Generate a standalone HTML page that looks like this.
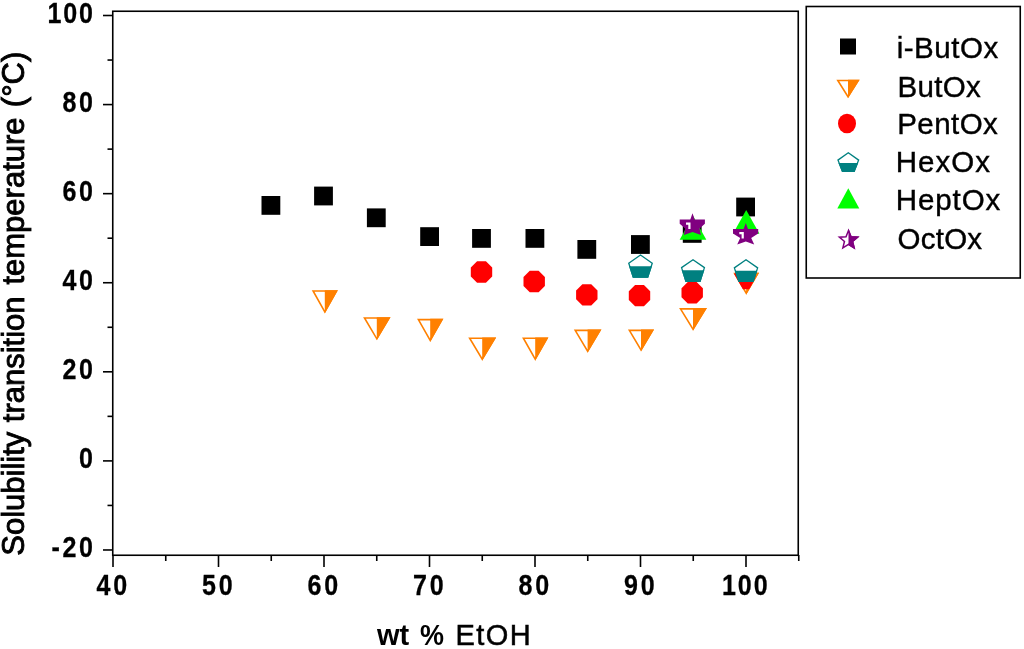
<!DOCTYPE html>
<html><head><meta charset="utf-8"><style>
html,body{margin:0;padding:0;background:#fff;}
svg{display:block;}
.tk{font-family:"Liberation Sans",Arial,sans-serif;font-weight:bold;font-size:30px;fill:#000;stroke:#000;stroke-width:0.3px;}
.tx{font-family:"Liberation Sans",Arial,sans-serif;font-size:29px;fill:#000;stroke:#000;stroke-width:0.5px;}
.ty{font-family:"Liberation Sans",Arial,sans-serif;font-size:31px;fill:#000;stroke:#000;stroke-width:0.9px;}
.lg{font-family:"Liberation Sans",Arial,sans-serif;font-size:29.5px;fill:#000;stroke:#000;stroke-width:0.4px;}
</style></head><body>
<svg width="1024" height="649" viewBox="0 0 1024 649">
<rect x="112.75" y="11.25" width="685.5" height="544" fill="none" stroke="#000" stroke-width="1.6"/>
<line x1="103" y1="549.98" x2="113" y2="549.98" stroke="#000" stroke-width="1.6"/>
<line x1="107.5" y1="505.44" x2="113" y2="505.44" stroke="#000" stroke-width="1.6"/>
<line x1="103" y1="460.90" x2="113" y2="460.90" stroke="#000" stroke-width="1.6"/>
<line x1="107.5" y1="416.36" x2="113" y2="416.36" stroke="#000" stroke-width="1.6"/>
<line x1="103" y1="371.82" x2="113" y2="371.82" stroke="#000" stroke-width="1.6"/>
<line x1="107.5" y1="327.28" x2="113" y2="327.28" stroke="#000" stroke-width="1.6"/>
<line x1="103" y1="282.74" x2="113" y2="282.74" stroke="#000" stroke-width="1.6"/>
<line x1="107.5" y1="238.20" x2="113" y2="238.20" stroke="#000" stroke-width="1.6"/>
<line x1="103" y1="193.66" x2="113" y2="193.66" stroke="#000" stroke-width="1.6"/>
<line x1="107.5" y1="149.12" x2="113" y2="149.12" stroke="#000" stroke-width="1.6"/>
<line x1="103" y1="104.58" x2="113" y2="104.58" stroke="#000" stroke-width="1.6"/>
<line x1="107.5" y1="60.04" x2="113" y2="60.04" stroke="#000" stroke-width="1.6"/>
<line x1="103" y1="15.50" x2="113" y2="15.50" stroke="#000" stroke-width="1.6"/>
<line x1="113.00" y1="555" x2="113.00" y2="567" stroke="#000" stroke-width="1.6"/>
<line x1="165.75" y1="555" x2="165.75" y2="561" stroke="#000" stroke-width="1.6"/>
<line x1="218.50" y1="555" x2="218.50" y2="567" stroke="#000" stroke-width="1.6"/>
<line x1="271.25" y1="555" x2="271.25" y2="561" stroke="#000" stroke-width="1.6"/>
<line x1="324.00" y1="555" x2="324.00" y2="567" stroke="#000" stroke-width="1.6"/>
<line x1="376.75" y1="555" x2="376.75" y2="561" stroke="#000" stroke-width="1.6"/>
<line x1="429.50" y1="555" x2="429.50" y2="567" stroke="#000" stroke-width="1.6"/>
<line x1="482.25" y1="555" x2="482.25" y2="561" stroke="#000" stroke-width="1.6"/>
<line x1="535.00" y1="555" x2="535.00" y2="567" stroke="#000" stroke-width="1.6"/>
<line x1="587.75" y1="555" x2="587.75" y2="561" stroke="#000" stroke-width="1.6"/>
<line x1="640.50" y1="555" x2="640.50" y2="567" stroke="#000" stroke-width="1.6"/>
<line x1="693.25" y1="555" x2="693.25" y2="561" stroke="#000" stroke-width="1.6"/>
<line x1="746.00" y1="555" x2="746.00" y2="567" stroke="#000" stroke-width="1.6"/>
<line x1="798.75" y1="555" x2="798.75" y2="561" stroke="#000" stroke-width="1.6"/>
<text transform="translate(51.46,557.28) scale(0.835,1)" class="tk" style="letter-spacing:3.20px">-20</text>
<text transform="translate(79.07,468.20) scale(0.835,1)" class="tk" style="letter-spacing:3.20px">0</text>
<text transform="translate(62.47,379.12) scale(0.835,1)" class="tk" style="letter-spacing:3.20px">20</text>
<text transform="translate(62.47,290.04) scale(0.835,1)" class="tk" style="letter-spacing:3.20px">40</text>
<text transform="translate(62.47,200.96) scale(0.835,1)" class="tk" style="letter-spacing:3.20px">60</text>
<text transform="translate(62.47,111.88) scale(0.835,1)" class="tk" style="letter-spacing:3.20px">80</text>
<text transform="translate(47.47,22.80) scale(0.835,1)" class="tk" style="letter-spacing:2.24px">100</text>
<text transform="translate(96.54,595.00) scale(0.835,1)" class="tk" style="letter-spacing:3.20px">40</text>
<text transform="translate(202.04,595.00) scale(0.835,1)" class="tk" style="letter-spacing:3.20px">50</text>
<text transform="translate(307.54,595.00) scale(0.835,1)" class="tk" style="letter-spacing:3.20px">60</text>
<text transform="translate(413.04,595.00) scale(0.835,1)" class="tk" style="letter-spacing:3.20px">70</text>
<text transform="translate(518.54,595.00) scale(0.835,1)" class="tk" style="letter-spacing:3.20px">80</text>
<text transform="translate(624.04,595.00) scale(0.835,1)" class="tk" style="letter-spacing:3.20px">90</text>
<text transform="translate(722.04,595.00) scale(0.835,1)" class="tk" style="letter-spacing:2.24px">100</text>
<text class="tx" y="645.3"><tspan x="377" font-weight="bold" stroke-width="0">wt</tspan><tspan x="420.1" font-weight="bold" stroke-width="0" textLength="24" lengthAdjust="spacingAndGlyphs">%</tspan><tspan x="455.4" textLength="75.3">EtOH</tspan></text>
<text class="ty" transform="translate(23.5,0) rotate(-90)"><tspan x="-555.7">Solubility</tspan><tspan x="-422.2">transition</tspan><tspan x="-284.6">temperature</tspan><tspan x="-107.2">(°C)</tspan></text>
<rect x="261.50" y="196.00" width="18.80" height="18.80" fill="#000"/>
<rect x="314.10" y="186.60" width="18.80" height="18.80" fill="#000"/>
<rect x="366.90" y="208.40" width="18.80" height="18.80" fill="#000"/>
<rect x="420.20" y="227.20" width="18.80" height="18.80" fill="#000"/>
<rect x="472.10" y="229.00" width="18.80" height="18.80" fill="#000"/>
<rect x="525.50" y="229.00" width="18.80" height="18.80" fill="#000"/>
<rect x="577.40" y="240.00" width="18.80" height="18.80" fill="#000"/>
<rect x="631.00" y="235.10" width="18.80" height="18.80" fill="#000"/>
<rect x="682.80" y="224.00" width="18.80" height="18.80" fill="#000"/>
<rect x="736.20" y="197.60" width="18.80" height="18.80" fill="#000"/>
<clipPath id="c1"><rect x="324.80" y="288.20" width="25.00" height="27.20"/></clipPath><polygon points="313.10,291.00 336.50,291.00 324.80,311.80" fill="#fff" stroke="#FF8000" stroke-width="1.6" stroke-linejoin="miter"/><polygon points="313.10,291.00 336.50,291.00 324.80,311.80" fill="#FF8000" stroke="#FF8000" stroke-width="1.6" stroke-linejoin="miter" clip-path="url(#c1)"/>
<clipPath id="c2"><rect x="376.80" y="315.20" width="26.20" height="27.20"/></clipPath><polygon points="364.50,318.00 389.10,318.00 376.80,338.80" fill="#fff" stroke="#FF8000" stroke-width="1.6" stroke-linejoin="miter"/><polygon points="364.50,318.00 389.10,318.00 376.80,338.80" fill="#FF8000" stroke="#FF8000" stroke-width="1.6" stroke-linejoin="miter" clip-path="url(#c2)"/>
<clipPath id="c3"><rect x="430.20" y="316.80" width="25.20" height="27.10"/></clipPath><polygon points="418.40,319.60 442.00,319.60 430.20,340.30" fill="#fff" stroke="#FF8000" stroke-width="1.6" stroke-linejoin="miter"/><polygon points="418.40,319.60 442.00,319.60 430.20,340.30" fill="#FF8000" stroke="#FF8000" stroke-width="1.6" stroke-linejoin="miter" clip-path="url(#c3)"/>
<clipPath id="c4"><rect x="482.20" y="335.40" width="26.70" height="27.40"/></clipPath><polygon points="469.65,338.20 494.75,338.20 482.20,359.20" fill="#fff" stroke="#FF8000" stroke-width="1.6" stroke-linejoin="miter"/><polygon points="469.65,338.20 494.75,338.20 482.20,359.20" fill="#FF8000" stroke="#FF8000" stroke-width="1.6" stroke-linejoin="miter" clip-path="url(#c4)"/>
<clipPath id="c5"><rect x="535.20" y="335.40" width="25.20" height="27.40"/></clipPath><polygon points="523.40,338.20 547.00,338.20 535.20,359.20" fill="#fff" stroke="#FF8000" stroke-width="1.6" stroke-linejoin="miter"/><polygon points="523.40,338.20 547.00,338.20 535.20,359.20" fill="#FF8000" stroke="#FF8000" stroke-width="1.6" stroke-linejoin="miter" clip-path="url(#c5)"/>
<clipPath id="c6"><rect x="587.60" y="327.60" width="26.40" height="27.20"/></clipPath><polygon points="575.20,330.40 600.00,330.40 587.60,351.20" fill="#fff" stroke="#FF8000" stroke-width="1.6" stroke-linejoin="miter"/><polygon points="575.20,330.40 600.00,330.40 587.60,351.20" fill="#FF8000" stroke="#FF8000" stroke-width="1.6" stroke-linejoin="miter" clip-path="url(#c6)"/>
<clipPath id="c7"><rect x="641.00" y="327.60" width="24.90" height="26.00"/></clipPath><polygon points="629.35,330.40 652.65,330.40 641.00,350.00" fill="#fff" stroke="#FF8000" stroke-width="1.6" stroke-linejoin="miter"/><polygon points="629.35,330.40 652.65,330.40 641.00,350.00" fill="#FF8000" stroke="#FF8000" stroke-width="1.6" stroke-linejoin="miter" clip-path="url(#c7)"/>
<clipPath id="c8"><rect x="693.00" y="306.10" width="26.60" height="26.70"/></clipPath><polygon points="680.50,308.90 705.50,308.90 693.00,329.20" fill="#fff" stroke="#FF8000" stroke-width="1.6" stroke-linejoin="miter"/><polygon points="680.50,308.90 705.50,308.90 693.00,329.20" fill="#FF8000" stroke="#FF8000" stroke-width="1.6" stroke-linejoin="miter" clip-path="url(#c8)"/>
<clipPath id="c9"><rect x="746.20" y="270.70" width="24.60" height="26.00"/></clipPath><polygon points="734.70,273.50 757.70,273.50 746.20,293.10" fill="#fff" stroke="#FF8000" stroke-width="1.6" stroke-linejoin="miter"/><polygon points="734.70,273.50 757.70,273.50 746.20,293.10" fill="#FF8000" stroke="#FF8000" stroke-width="1.6" stroke-linejoin="miter" clip-path="url(#c9)"/>
<polygon points="477.07,261.30 485.93,261.30 492.20,267.57 492.20,276.43 485.93,282.70 477.07,282.70 470.80,276.43 470.80,267.57" fill="#FF0000"/>
<polygon points="529.77,270.80 538.63,270.80 544.90,277.07 544.90,285.93 538.63,292.20 529.77,292.20 523.50,285.93 523.50,277.07" fill="#FF0000"/>
<polygon points="582.37,284.20 591.23,284.20 597.50,290.47 597.50,299.33 591.23,305.60 582.37,305.60 576.10,299.33 576.10,290.47" fill="#FF0000"/>
<polygon points="635.07,284.90 643.93,284.90 650.20,291.17 650.20,300.03 643.93,306.30 635.07,306.30 628.80,300.03 628.80,291.17" fill="#FF0000"/>
<polygon points="687.77,282.00 696.63,282.00 702.90,288.27 702.90,297.13 696.63,303.40 687.77,303.40 681.50,297.13 681.50,288.27" fill="#FF0000"/>
<clipPath id="redclip"><polygon points="733.3,272.5 758.3,272.5 746.2,295"/></clipPath>
<g clip-path="url(#redclip)"><polygon points="740.27,267.90 749.13,267.90 755.40,274.17 755.40,283.03 749.13,289.30 740.27,289.30 734.00,283.03 734.00,274.17" fill="#FF0000"/></g>
<clipPath id="c10"><rect x="626.10" y="266.30" width="28.80" height="13.50"/></clipPath><polygon points="640.50,254.95 652.25,263.20 647.75,277.15 633.25,277.15 628.75,263.20" fill="#fff" stroke="#008080" stroke-width="1.3"/><polygon points="640.50,254.95 652.25,263.20 647.75,277.15 633.25,277.15 628.75,263.20" fill="#008080" stroke="#008080" stroke-width="1.3" clip-path="url(#c10)"/>
<clipPath id="c11"><rect x="678.90" y="270.30" width="28.20" height="13.70"/></clipPath><polygon points="693.00,259.75 704.45,267.60 700.05,281.35 685.95,281.35 681.55,267.60" fill="#fff" stroke="#008080" stroke-width="1.3"/><polygon points="693.00,259.75 704.45,267.60 700.05,281.35 685.95,281.35 681.55,267.60" fill="#008080" stroke="#008080" stroke-width="1.3" clip-path="url(#c11)"/>
<clipPath id="c12"><rect x="731.70" y="270.80" width="28.60" height="13.20"/></clipPath><polygon points="746.00,259.75 757.65,267.85 753.05,281.35 738.95,281.35 734.35,267.85" fill="#fff" stroke="#008080" stroke-width="1.3"/><polygon points="746.00,259.75 757.65,267.85 753.05,281.35 738.95,281.35 734.35,267.85" fill="#008080" stroke="#008080" stroke-width="1.3" clip-path="url(#c12)"/>
<polygon points="693.00,215.80 706.35,239.70 679.65,239.70" fill="#00FF00"/>
<polygon points="746.20,209.90 759.45,233.80 732.95,233.80" fill="#00FF00"/>
<polygon points="692.50,213.30 694.70,219.50 704.90,219.50 704.90,223.80 699.52,228.50 700.90,235.00 692.50,232.00 683.90,235.00 685.22,228.50 679.70,223.80 679.70,219.50 690.30,219.50" fill="#800080"/><polygon points="686.00,222.40 690.50,222.40 690.50,228.90 688.30,228.90 688.30,224.70 686.00,224.70" fill="#fff"/>
<polygon points="745.80,222.90 748.00,229.10 758.20,229.10 758.20,233.40 751.20,238.10 754.20,244.60 745.80,241.60 737.20,244.60 740.20,238.10 733.00,233.40 733.00,229.10 743.60,229.10" fill="#800080"/><polygon points="739.30,232.00 743.80,232.00 743.80,238.50 741.60,238.50 741.60,234.30 739.30,234.30" fill="#fff"/>
<rect x="806.25" y="6.5" width="214" height="271.5" fill="#fff" stroke="#000" stroke-width="1.6"/>
<text x="896.7" y="57.6" class="lg" textLength="101.5" lengthAdjust="spacing">i-ButOx</text>
<text x="897.4" y="96.7" class="lg" textLength="83.4" lengthAdjust="spacing">ButOx</text>
<text x="897.2" y="134" class="lg" textLength="100.6" lengthAdjust="spacing">PentOx</text>
<text x="895.7" y="172" class="lg" textLength="94.2" lengthAdjust="spacing">HexOx</text>
<text x="895.7" y="210.4" class="lg" textLength="104.6" lengthAdjust="spacing">HeptOx</text>
<text x="897.5" y="249.1" class="lg" textLength="84.6" lengthAdjust="spacing">OctOx</text>
<rect x="840.00" y="38.50" width="16.00" height="16.00" fill="#000"/>
<clipPath id="c13"><rect x="848.00" y="77.70" width="22.00" height="22.60"/></clipPath><polygon points="837.80,80.50 858.20,80.50 848.00,96.70" fill="#fff" stroke="#FF8000" stroke-width="1.6" stroke-linejoin="miter"/><polygon points="837.80,80.50 858.20,80.50 848.00,96.70" fill="#FF8000" stroke="#FF8000" stroke-width="1.6" stroke-linejoin="miter" clip-path="url(#c13)"/>
<ellipse cx="847" cy="123.5" rx="9.0" ry="9.8" fill="#FF0000"/>
<clipPath id="c14"><rect x="835.30" y="162.90" width="26.00" height="11.20"/></clipPath><polygon points="848.30,152.75 858.65,160.10 854.15,171.45 842.45,171.45 837.95,160.10" fill="#fff" stroke="#008080" stroke-width="1.3"/><polygon points="848.30,152.75 858.65,160.10 854.15,171.45 842.45,171.45 837.95,160.10" fill="#008080" stroke="#008080" stroke-width="1.3" clip-path="url(#c14)"/>
<polygon points="848.30,188.20 859.30,208.60 837.30,208.60" fill="#00FF00"/>
<clipPath id="c15"><rect x="848.50" y="226.20" width="14.95" height="27.90"/></clipPath><polygon points="848.50,230.55 850.99,236.72 857.63,237.18 852.54,241.46 854.14,247.92 848.50,244.39 842.86,247.92 844.46,241.46 839.37,237.18 846.01,236.72" fill="#fff" stroke="#800080" stroke-width="1.5" stroke-linejoin="miter"/><polygon points="848.50,230.55 850.99,236.72 857.63,237.18 852.54,241.46 854.14,247.92 848.50,244.39 842.86,247.92 844.46,241.46 839.37,237.18 846.01,236.72" fill="#800080" stroke="#800080" stroke-width="1.5" stroke-linejoin="miter" clip-path="url(#c15)"/>
</svg>
</body></html>
